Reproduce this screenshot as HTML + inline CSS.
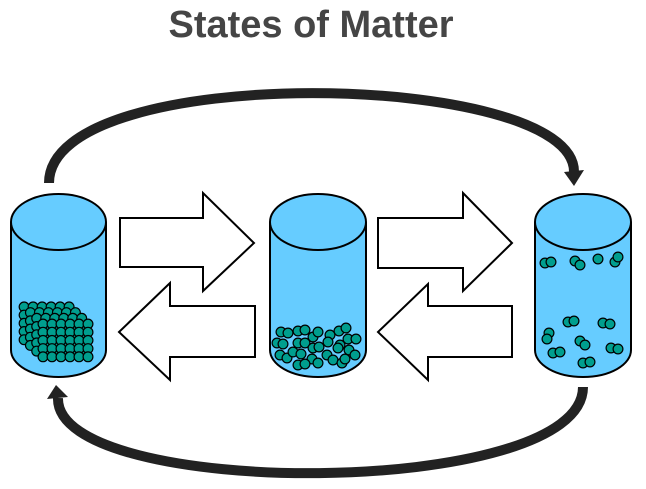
<!DOCTYPE html>
<html><head><meta charset="utf-8"><style>
html,body{margin:0;padding:0;background:#fff;}
svg{display:block}
</style></head><body>
<svg width="646" height="489" viewBox="0 0 646 489" xmlns="http://www.w3.org/2000/svg">
<text x="311" y="37" text-anchor="middle" font-family="Liberation Sans, sans-serif" font-weight="bold" font-size="38" fill="#454545">States of Matter</text>

<!-- curved arrows -->
<path d="M49,183 C49,60 575,70 574,172" fill="none" stroke="#222" stroke-width="10"/>
<polygon points="564,172 584,170 574,186" fill="#222"/>
<path d="M583,387 C583,500 55,500 58,398" fill="none" stroke="#222" stroke-width="10"/>
<polygon points="47,399 68,397 56,385" fill="#222"/>

<!-- block arrows -->
<g fill="#fff" stroke="#000" stroke-width="2" stroke-linejoin="miter">
<polygon points="120,218 203,218 203,193 254,243 203,291 203,267 120,267"/>
<polygon points="255,306 170,306 170,283 119,332 170,380 170,357 255,357"/>
<polygon points="378,218 463,218 463,193 512,243 463,291 463,268 378,268"/>
<polygon points="512,306 428,306 428,284 378,332 428,380 428,357 512,357"/>
</g>

<!-- cylinders -->
<g stroke="#000" stroke-width="2" fill="#66ccff">
<path d="M11,222 L11,350 A47.5,27 0 0 0 106,350 L106,222"/>
<ellipse cx="58.5" cy="222" rx="47.5" ry="28"/>
<path d="M270,222 L270,350 A48,27 0 0 0 366,350 L366,222"/>
<ellipse cx="318" cy="222" rx="48" ry="28"/>
<path d="M535,222 L535,350 A48,27 0 0 0 631,350 L631,222"/>
<ellipse cx="583" cy="222" rx="48" ry="28"/>
</g>

<g fill="#009e8e" stroke="#000" stroke-width="1.2" id="parts">
</g>
</svg>
<script>
var g=document.getElementById('parts'),ns='http://www.w3.org/2000/svg';
function c(x,y,r){var e=document.createElementNS(ns,'circle');e.setAttribute('cx',x);e.setAttribute('cy',y);e.setAttribute('r',r||4.9);g.appendChild(e);}
for(var l=3;l>=0;l--){for(var row=0;row<5;row++)for(var col=0;col<6;col++){c(43+col*9-l*6.3,324+row*8.2-l*5.7,4.9);}}
var liq=[[281,332],[288,333],[298,331],[305,330],[313,337],[318,332],[330,335],[339,331],[346,328],[348,339],[356,339],[277,343],[283,344],[298,343],[305,343],[313,348],[319,347],[328,342],[340,345],[280,355],[287,358],[293,352],[301,354],[312,359],[318,363],[327,355],[333,360],[342,363],[345,359],[349,350],[355,355],[298,365],[305,364],[338,348]];
liq.forEach(function(p){c(p[0],p[1]);});
var gas=[[545,263],[551,262],[575,261],[580,265],[598,259],[615,262],[618,257],[549,333],[547,339],[568,322],[574,321],[603,323],[610,324],[580,341],[585,345],[611,348],[618,349],[553,353],[560,352],[583,363],[590,362]];
gas.forEach(function(p){c(p[0],p[1]);});
</script>
</body></html>
